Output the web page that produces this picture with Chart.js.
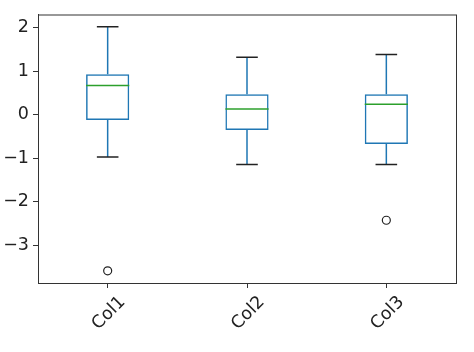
<!DOCTYPE html>
<html>
<head>
<meta charset="utf-8">
<script src="https://cdn.jsdelivr.net/npm/chart.js@4/dist/chart.umd.min.js"></script>
<style>
  body { margin: 0; background: #fff; }
</style>
</head>
<body>
<canvas id="box" width="474" height="352"></canvas>
<script>
const categories = ["Col1", "Col2", "Col3"];
const whiskerLow = [-0.97, -1.14, -1.14];
const q1 = [-0.12, -0.35, -0.67];
const medians = [0.67, 0.13, 0.24];
const q3 = [0.93, 0.47, 0.47];
const whiskerHigh = [2.02, 1.32, 1.38];
const outliers = [-3.58, null, -2.42];
const yTicks = [-3, -2, -1, 0, 1, 2];

const boxColor = "#1f77b4";
const medianColor = "#2ca02c";
const axisColor = "#333";

// whiskers, caps, medians and the top/right frame
const boxExtras = {
  id: "boxExtras",
  afterDatasetsDraw(chart) {
    const ctx = chart.ctx;
    const y = chart.scales.y;
    const bars = chart.getDatasetMeta(0).data;
    ctx.save();
    bars.forEach((bar, i) => {
      const cx = bar.x;
      const half = bar.width / 2;
      const cap = half / 2;
      ctx.lineWidth = 1.5;
      ctx.strokeStyle = boxColor;
      ctx.beginPath();
      ctx.moveTo(cx, y.getPixelForValue(q1[i]));
      ctx.lineTo(cx, y.getPixelForValue(whiskerLow[i]));
      ctx.moveTo(cx, y.getPixelForValue(q3[i]));
      ctx.lineTo(cx, y.getPixelForValue(whiskerHigh[i]));
      ctx.stroke();
      ctx.strokeStyle = "#222";
      ctx.beginPath();
      ctx.moveTo(cx - cap, y.getPixelForValue(whiskerLow[i]));
      ctx.lineTo(cx + cap, y.getPixelForValue(whiskerLow[i]));
      ctx.moveTo(cx - cap, y.getPixelForValue(whiskerHigh[i]));
      ctx.lineTo(cx + cap, y.getPixelForValue(whiskerHigh[i]));
      ctx.stroke();
      ctx.strokeStyle = medianColor;
      ctx.beginPath();
      ctx.moveTo(cx - half, y.getPixelForValue(medians[i]));
      ctx.lineTo(cx + half, y.getPixelForValue(medians[i]));
      ctx.stroke();
    });
    const a = chart.chartArea;
    ctx.strokeStyle = axisColor;
    ctx.lineWidth = 1;
    ctx.strokeRect(a.left + 0.5, a.top + 0.5, a.right - a.left, a.bottom - a.top);
    ctx.restore();
  }
};

new Chart(document.getElementById("box").getContext("2d"), {
  data: {
    labels: categories,
    datasets: [
      {
        type: "bar",
        data: categories.map((c, i) => [q1[i], q3[i]]),
        backgroundColor: "rgba(0,0,0,0)",
        borderColor: boxColor,
        borderWidth: 1.5,
        borderSkipped: false,
        barPercentage: 0.31,
        categoryPercentage: 1
      },
      {
        type: "line",
        data: outliers,
        showLine: false,
        pointStyle: "circle",
        pointRadius: 4,
        pointBorderWidth: 1.2,
        pointBorderColor: "#222",
        pointBackgroundColor: "rgba(0,0,0,0)"
      }
    ]
  },
  options: {
    responsive: false,
    animation: false,
    layout: { padding: { top: 11, right: 18, left: 0, bottom: 0 } },
    plugins: {
      legend: { display: false },
      tooltip: { enabled: false }
    },
    scales: {
      x: {
        offset: true,
        grid: { display: true, drawOnChartArea: false, drawTicks: true, tickLength: 5, color: axisColor, offset: false },
        border: { display: true, color: axisColor, width: 1 },
        ticks: {
          color: "#222",
          font: { family: "DejaVu Sans", size: 17.5 },
          minRotation: 45,
          maxRotation: 45,
          autoSkip: false,
          labelOffset: 15,
          padding: 4
        },
        afterFit(scale) { scale.height = 69; }
      },
      y: {
        min: -3.86,
        max: 2.30,
        grid: { display: true, drawOnChartArea: false, drawTicks: true, tickLength: 5, color: axisColor },
        border: { display: true, color: axisColor, width: 1 },
        afterBuildTicks(scale) { scale.ticks = yTicks.map(v => ({ value: v })); },
        ticks: {
          color: "#222",
          font: { family: "DejaVu Sans", size: 17.5 },
          padding: 4,
          callback: (v) => String(v).replace("-", "\u2212")
        },
        afterFit(scale) { scale.width = 38; }
      }
    }
  },
  plugins: [boxExtras]
});
</script>
</body>
</html>
